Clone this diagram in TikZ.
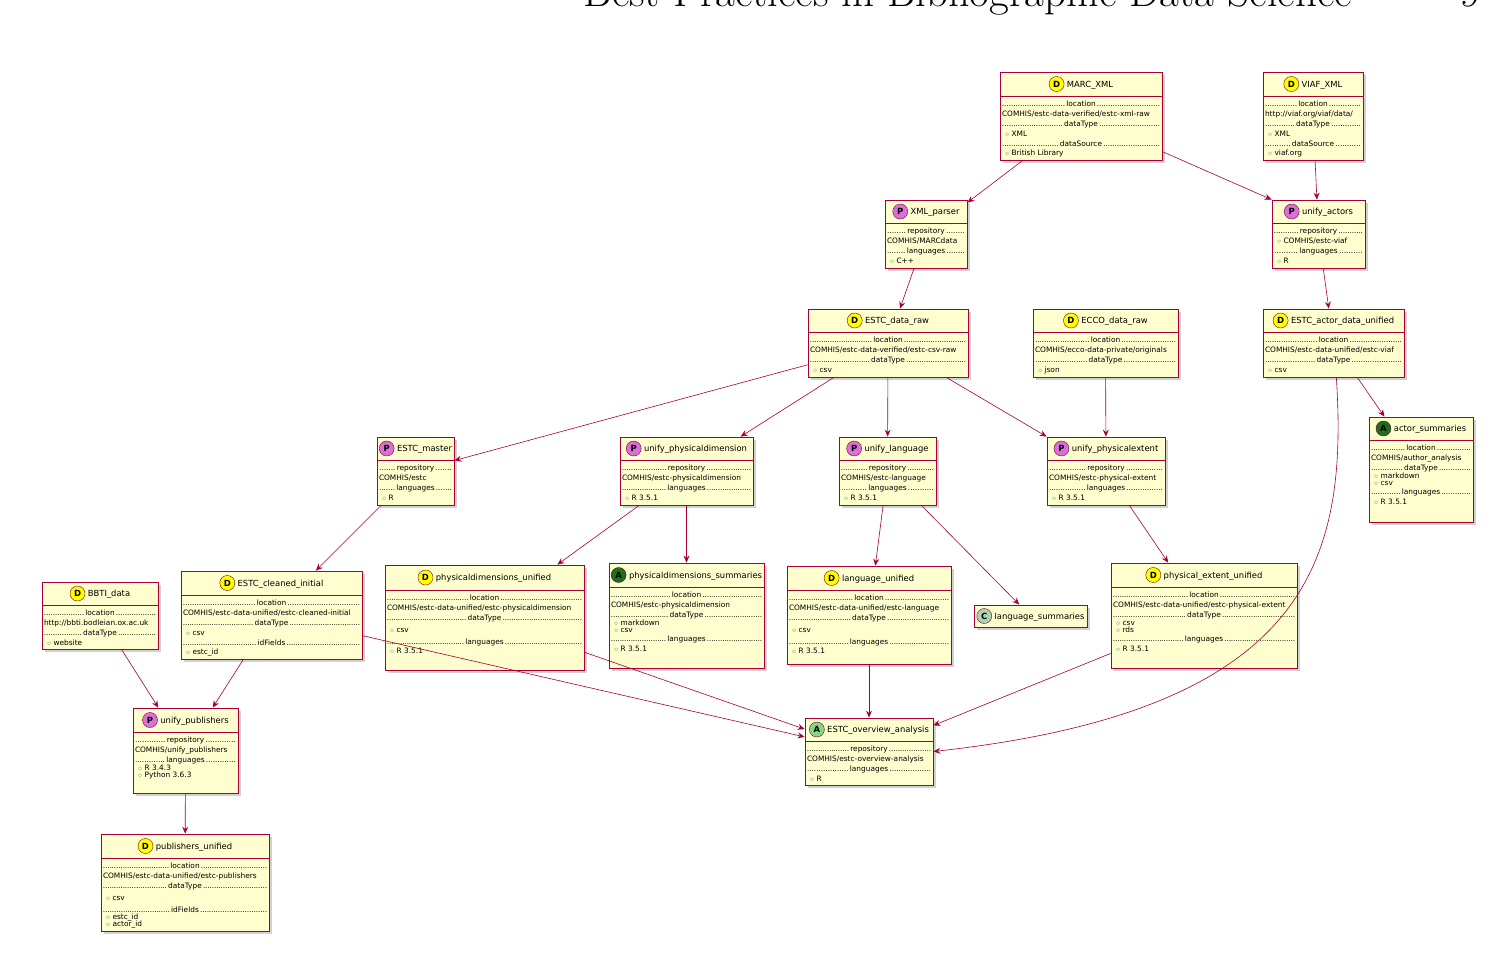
\documentclass[tikz,border=0pt]{standalone}
\usepackage{fontspec}
\setmainfont{DejaVu Sans}
\newfontfamily\hdrfont{Latin Modern Roman}
\usetikzlibrary{fit,calc,arrows.meta}
\definecolor{umlred}{HTML}{A80036}
\definecolor{umlfill}{HTML}{FEFECE}
\definecolor{icoD}{HTML}{FFFF00}
\definecolor{icoP}{HTML}{DA70D6}
\definecolor{icoA}{HTML}{84D684}
\definecolor{icoAD}{HTML}{1E6E1E}
\definecolor{icoC}{HTML}{ADD1B2}
\definecolor{itmgreen}{HTML}{2E8B57}
\newcommand\ico[2]{\tikz[baseline=-0.7ex]\node[circle,draw=umlred!70!black,line width=0.4pt,fill=#1,inner sep=0pt,minimum size=15pt,font=\fontsize{8.5}{8.5}\selectfont\bfseries]{#2};}
\newcommand\iD{\ico{icoD}{D}}
\newcommand\iP{\ico{icoP}{P}}
\newcommand\iA{\ico{icoA}{A}}
\newcommand\iAD{\ico{icoAD}{A}}
\newcommand\iC{\ico{icoC}{C}}
\newcommand\dotl{\leavevmode\xleaders\hbox to 2.2pt{\hss.\hss}\hfill}
\newcommand\sep[1]{\dotl\,#1\,\dotl\mbox{}}
\newcommand\itm[1]{\hspace*{3pt}{\color{itmgreen}$\circ$}\ #1\hfill\mbox{}}
\newcommand\pl[1]{#1\hfill\mbox{}}
\newcommand\umlbox[9]{%
  \fill[black!18] (#2+3,#3+3) rectangle (#4+3,#5+3);
  \node[fit={(#2,#3) (#4,#5)}, inner sep=0pt, draw=umlred, fill=umlfill, line width=0.8pt] (#1) {};
  \draw[umlred, line width=0.8pt] (#2,#6) -- (#4,#6);
  \node[font=\fontsize{8.4}{10}\selectfont] at ($(#2,#3)!0.5!(#4,#6)$) {#7\ #8};
  \pgfmathsetmacro\bw{#4-#2-4}
  \node[anchor=north, text width=\bw pt, align=center, inner xsep=0pt, inner ysep=4pt,
        font=\fontsize{7.4}{9.8}\selectfont] at ({(#2+#4)/2},#6+1) {#9};
}
\tikzset{flow/.style={draw=umlred, line width=0.6pt, -{Stealth[length=7pt,width=6pt,inset=2.5pt]}}}
\begin{document}
\begin{tikzpicture}[x=1pt,y=-1pt]
\useasboundingbox (0,0) rectangle (1509,962);
\clip (0,0) rectangle (1509,962);
\fill[white] (0,0) rectangle (1509,962);
\node[anchor=base, font=\hdrfont\fontsize{43}{43}\selectfont] (hdr) at (968,6) {Best Practices in Bibliographic Data Science};
\node[anchor=base, font=\hdrfont\fontsize{43}{43}\selectfont] (pg) at (1470,6) {9};

\umlbox{marc}{1000}{72}{1162}{160}{96}{\iD}{MARC\_XML}{\sep{location}\\\pl{COMHIS/estc-data-verified/estc-xml-raw}\\\sep{dataType}\\\itm{XML}\\\sep{dataSource}\\\itm{British Library}}
\umlbox{viaf}{1263}{72}{1363}{160}{96}{\iD}{VIAF\_XML}{\sep{location}\\\pl{http://viaf.org/viaf/data/}\\\sep{dataType}\\\itm{XML}\\\sep{dataSource}\\\itm{viaf.org}}
\umlbox{xmlp}{885}{200}{967}{268}{223}{\iP}{XML\_parser}{\sep{repository}\\\pl{COMHIS/MARCdata}\\\sep{languages}\\\itm{C++}}
\umlbox{uact}{1272}{200}{1365}{268}{223}{\iP}{unify\_actors}{\sep{repository}\\\itm{COMHIS/estc-viaf}\\\sep{languages}\\\itm{R}}
\umlbox{raw}{808}{309}{968}{377}{332}{\iD}{ESTC\_data\_raw}{\sep{location}\\\pl{COMHIS/estc-data-verified/estc-csv-raw}\\\sep{dataType}\\\itm{csv}}
\umlbox{ecco}{1033}{309}{1178}{377}{332}{\iD}{ECCO\_data\_raw}{\sep{location}\\\pl{COMHIS/ecco-data-private/originals}\\\sep{dataType}\\\itm{json}}
\umlbox{adu}{1263}{309}{1404}{377}{332}{\iD}{ESTC\_actor\_data\_unified}{\sep{location}\\\pl{COMHIS/estc-data-unified/estc-viaf}\\\sep{dataType}\\\itm{csv}}
\umlbox{master}{377}{437}{454}{505}{460}{\iP}{ESTC\_master}{\sep{repository}\\\pl{COMHIS/estc}\\\sep{languages}\\\itm{R}}
\umlbox{upd}{620}{437}{753}{505}{460}{\iP}{unify\_physicaldimension}{\sep{repository}\\\pl{COMHIS/estc-physicaldimension}\\\sep{languages}\\\itm{R 3.5.1}}
\umlbox{ulang}{839}{437}{936}{505}{460}{\iP}{unify\_language}{\sep{repository}\\\pl{COMHIS/estc-language}\\\sep{languages}\\\itm{R 3.5.1}}
\umlbox{upe}{1047}{437}{1165}{505}{460}{\iP}{unify\_physicalextent}{\sep{repository}\\\pl{COMHIS/estc-physical-extent}\\\sep{languages}\\\itm{R 3.5.1}}
\umlbox{asum}{1369}{417}{1473}{522}{440}{\iAD}{actor\_summaries}{\sep{location}\\\pl{COMHIS/author\_analysis}\\\sep{dataType}\\[-2pt]\itm{markdown}\\[-3pt]\itm{csv}\\\sep{languages}\\\itm{R 3.5.1}}
\umlbox{bbti}{42}{582}{158}{649}{605}{\iD}{BBTI\_data}{\sep{location}\\\pl{http://bbti.bodleian.ox.ac.uk}\\\sep{dataType}\\\itm{website}}
\umlbox{clean}{181}{571}{362}{659}{595}{\iD}{ESTC\_cleaned\_initial}{\sep{location}\\\pl{COMHIS/estc-data-unified/estc-cleaned-initial}\\\sep{dataType}\\\itm{csv}\\\sep{idFields}\\\itm{estc\_id}}
\umlbox{pdu}{385}{565}{584}{670}{590}{\iD}{physicaldimensions\_unified}{\sep{location}\\\pl{COMHIS/estc-data-unified/estc-physicaldimension}\\\sep{dataType}\\[2pt]\itm{csv}\\[2pt]\sep{languages}\\\itm{R 3.5.1}}
\umlbox{pds}{609}{563}{764}{668}{587}{\iAD}{physicaldimensions\_summaries}{\sep{location}\\\pl{COMHIS/estc-physicaldimension}\\\sep{dataType}\\[-2pt]\itm{markdown}\\[-3pt]\itm{csv}\\\sep{languages}\\\itm{R 3.5.1}}
\umlbox{lu}{787}{566}{951}{664}{590}{\iD}{language\_unified}{\sep{location}\\\pl{COMHIS/estc-data-unified/estc-language}\\\sep{dataType}\\[2pt]\itm{csv}\\[2pt]\sep{languages}\\\itm{R 3.5.1}}
\umlbox{ls}{974}{605}{1087}{627}{627}{\iC}{language\_summaries}{}
\umlbox{peu}{1111}{563}{1297}{668}{587}{\iD}{physical\_extent\_unified}{\sep{location}\\\pl{COMHIS/estc-data-unified/estc-physical-extent}\\\sep{dataType}\\[-2pt]\itm{csv}\\[-3pt]\itm{rds}\\\sep{languages}\\\itm{R 3.5.1}}
\umlbox{upub}{133}{708}{238}{793}{732}{\iP}{unify\_publishers}{\sep{repository}\\\pl{COMHIS/unify\_publishers}\\\sep{languages}\\[-2pt]\itm{R 3.4.3}\\[-3pt]\itm{Python 3.6.3}}
\umlbox{over}{805}{718}{933}{785}{741}{\iA}{ESTC\_overview\_analysis}{\sep{repository}\\\pl{COMHIS/estc-overview-analysis}\\\sep{languages}\\\itm{R}}
\umlbox{pubu}{101}{834}{269}{931}{858}{\iD}{publishers\_unified}{\sep{location}\\\pl{COMHIS/estc-data-unified/estc-publishers}\\\sep{dataType}\\[2pt]\itm{csv}\\[2pt]\sep{idFields}\\[-2pt]\itm{estc\_id}\\[-3pt]\itm{actor\_id}}

\draw[flow] (marc) -- (uact.north west);
\draw[flow] (marc) -- (xmlp);
\draw[flow] (viaf) -- (uact);
\draw[flow] (xmlp) -- (raw);
\draw[flow] (uact) -- (adu);
\draw[flow] (raw) -- (master);
\draw[flow] (raw) -- (upd);
\draw[flow] (raw) -- (ulang);
\draw[flow] (raw) -- (upe.north west);
\draw[flow] (ecco) -- (upe);
\draw[flow] (adu) -- (asum);
\draw[flow] ($(adu.south west)!0.52!(adu.south east)$) .. controls (1348,560) and (1310,710) .. (over.east);
\draw[flow] (master) -- (clean);
\draw[flow] (upd) -- (pdu);
\draw[flow] (upd) -- (pds);
\draw[flow] (ulang) -- (lu);
\draw[flow] (ulang) -- (ls);
\draw[flow] (upe) -- (peu);
\draw[flow] (bbti) -- (upub);
\draw[flow] (clean) -- (upub);
\draw[flow] (clean) -- (over);
\draw[flow] (pdu) -- (over);
\draw[flow] (lu) -- (over);
\draw[flow] (peu) -- (over);
\draw[flow] (upub) -- (pubu);
\end{tikzpicture}
\end{document}
